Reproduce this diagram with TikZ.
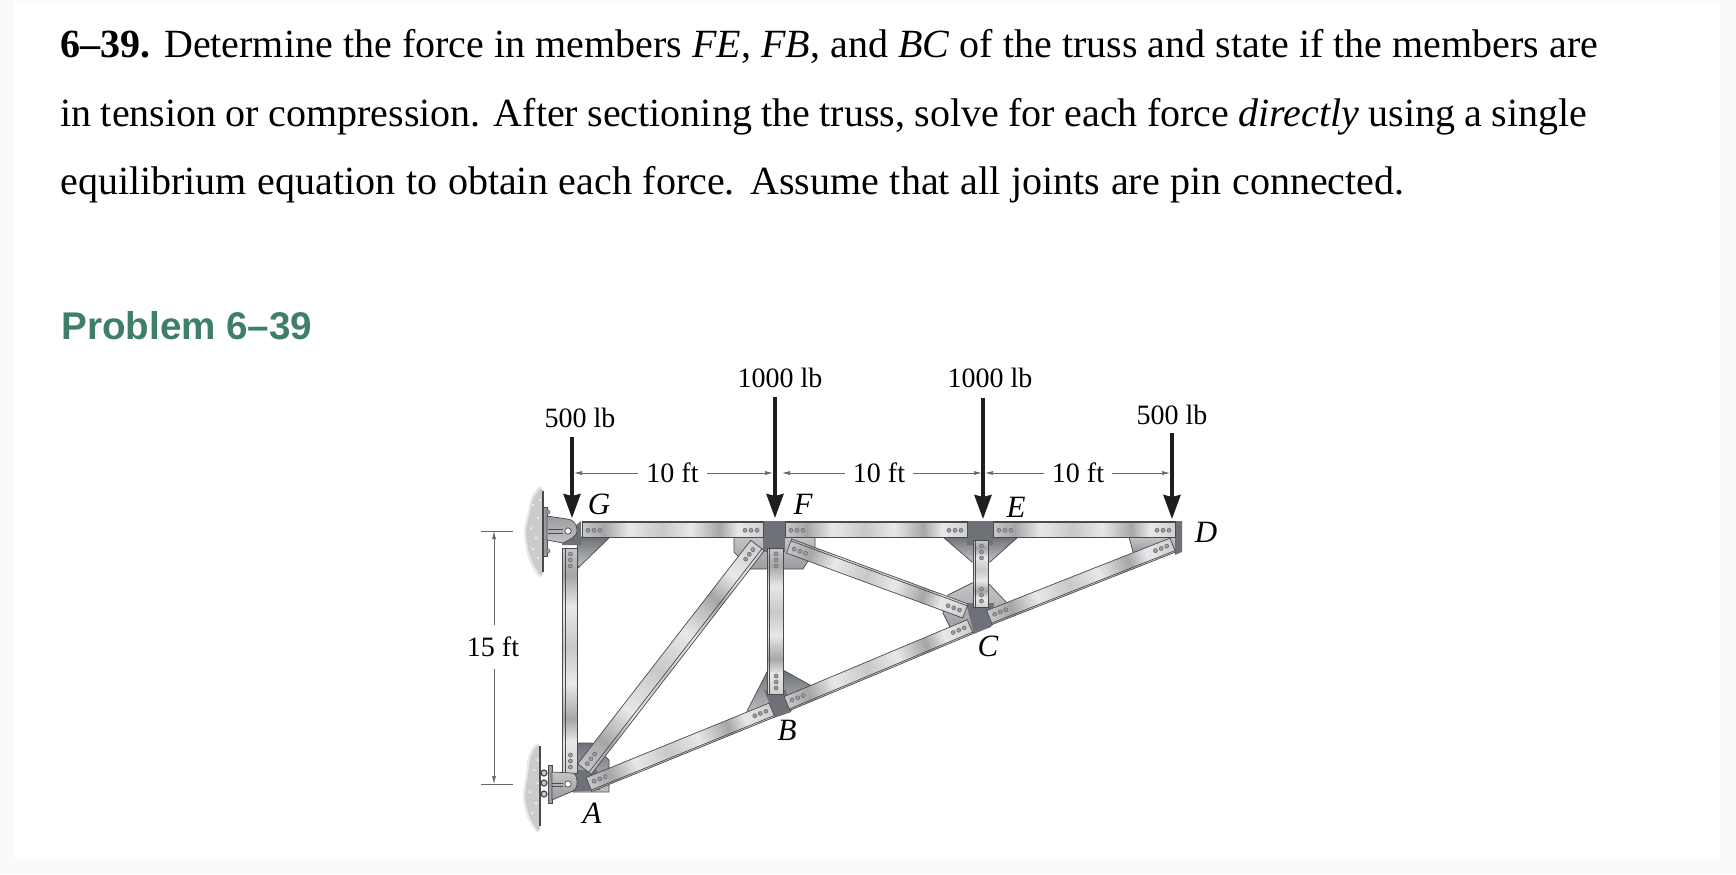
\documentclass[tikz,border=0pt]{standalone}
\usepackage{fontspec}
\setmainfont{Liberation Serif}
\newfontfamily\headfont{Liberation Sans}
\usepackage{tikz}
\usetikzlibrary{arrows.meta}
\usetikzlibrary{calc}
\definecolor{PageGrey}{HTML}{FAFAFA}
\definecolor{HeadGreen}{HTML}{3F7F68}
\definecolor{BarA}{HTML}{CFCFD0}
\definecolor{BarB}{HTML}{A6A6A8}
\definecolor{BarC}{HTML}{E8E8EA}
\definecolor{BarD}{HTML}{C8C8CA}
\definecolor{PlateDark}{HTML}{6E7278}
\definecolor{PlateMid}{HTML}{9A9CA0}
\definecolor{PlateLight}{HTML}{C4C4C6}
\definecolor{EdgeGrey}{HTML}{4A4A4C}
\definecolor{InkDark}{HTML}{1E1E1E}
\pgfdeclarehorizontalshading{metalbar}{100bp}{color(0bp)=(BarD); color(25bp)=(BarD); color(31bp)=(BarB); color(38bp)=(BarC); color(47bp)=(BarD); color(55bp)=(BarC); color(63bp)=(BarB); color(68bp)=(BarC); color(75bp)=(BarA); color(100bp)=(BarA)}
\tikzset{
  edgeline/.style={draw=EdgeGrey, line width=0.35pt},
  boltdot/.style={fill=PlateMid, draw=EdgeGrey!80, line width=0.3pt},
  plateup/.style={top color=PlateLight, bottom color=PlateMid, edgeline},
  platedown/.style={top color=PlateDark, bottom color=PlateLight, edgeline},
  hubplate/.style={fill=PlateDark, draw=none},
  wallfill/.style={fill=black!20, draw=none},
  wallhalo/.style={fill=black!9, draw=none},
  loadarrow/.style={draw=InkDark, line width=1.8pt, -{Stealth[length=12pt,width=8.5pt,inset=1pt]}},
  dimline/.style={draw=black!60, line width=0.35pt, -{Latex[length=4pt,width=2pt]}, shorten <=0pt},
  dimlabel/.style={font=\fontsize{14}{14}\selectfont, inner xsep=4pt, inner ysep=0pt},
  loadlabel/.style={font=\fontsize{14}{14}\selectfont, inner sep=0pt},
  jointlabel/.style={font=\fontsize{15.5}{15.5}\selectfont\itshape, inner sep=0pt},
  bodyline/.style={font=\fontsize{20}{20}\selectfont, anchor=base west, inner sep=0pt},
}
% start, end, width, flange offset
\newcommand{\member}[4]{%
  \path let \p1=($(#2)-(#1)$) in \pgfextra{%
    \pgfmathsetmacro{\memang}{atan2(\y1,\x1)}%
    \pgfmathsetmacro{\memlen}{veclen(\x1,\y1)*2}%
    \global\let\memang\memang\global\let\memlen\memlen};
  \begin{scope}[transform canvas={shift={(#1)},rotate=\memang}]
    \shade[shading=metalbar] (0,-#3/2) rectangle (\memlen,#3/2);
    \draw[edgeline] (0,-#3/2) rectangle (\memlen,#3/2);
    \draw[edgeline] (0,#4) -- (\memlen,#4);
    \foreach \d in {6,12,18} {
      \draw[boltdot] (\d,{-0.2*#4}) circle (2);
      \draw[boltdot] ({\memlen-\d},{-0.2*#4}) circle (2);
    }
  \end{scope}}
\begin{document}
\begin{tikzpicture}[x=0.5pt,y=-0.5pt]
    \useasboundingbox (0,0) rectangle (1736,874);
    \fill[PageGrey] (0,0) rectangle (1736,874);
    \fill[white] (15,1) rectangle (1720,859);
    % problem text
    \node[bodyline] (lineA) at (60,57) {\makebox[769pt][s]{\textbf{6–39.} Determine the force in members \textit{FE}, \textit{FB}, and \textit{BC} of the truss and state if the members are}};
    \node[bodyline] (lineB) at (60,126) {\makebox[763.5pt][s]{in tension or compression. After sectioning the truss, solve for each force \textit{directly} using a single}};
    \node[bodyline] (lineC) at (60,194) {\makebox[672pt][s]{equilibrium equation to obtain each force. Assume that all joints are pin connected.}};
    \node[anchor=base west, inner sep=0pt, text=HeadGreen, font=\headfont\bfseries\fontsize{19.3}{20}\selectfont] (heading) at (61,339) {Problem 6–39};
    % walls
    \fill[wallhalo] plot[smooth cycle] coordinates {(543,491) (533,494) (528,511) (524,532) (527,553) (533,569) (543,573)};
    \fill[wallhalo] plot[smooth cycle] coordinates {(540,747) (529,754) (526,775) (523,797) (527,817) (533,827) (540,828)};
    \fill[wallfill] plot[smooth cycle] coordinates {(543,493) (534,497) (530,512) (526,532) (529,552) (535,567) (543,571)};
    \fill[wallfill] plot[smooth cycle] coordinates {(540,749) (531,756) (528,775) (525,797) (529,815) (534,825) (540,826)};
    \foreach \x/\y in {533/505,538/518,531/528,536/538,533/549,538/558,540/500,534/770,538/783,530/792,536/803,532/813,538/760}
      \fill[white] (\x,\y) circle (1);
    \draw[EdgeGrey, line width=0.7pt] (543,491) -- (543,572);
    \draw[EdgeGrey, line width=0.7pt] (540,746) -- (540,826);
    % gusset plates
    \path[platedown] (577,537) -- (610,537) -- (578,568) -- cycle;
    \path[plateup] (734,537) -- (815,537) -- (815,550) -- (803,569) -- (750,569) -- (734,552) -- cycle;
    \path[platedown] (943,537) -- (1018,537) -- (990,562) -- (972,562) -- cycle;
    \path[plateup] (1129,537) -- (1176,537) -- (1176,550) -- (1133,552) -- cycle;
    \path[platedown] (577,743) -- (592,743) -- (609,760) -- (609,792) -- (573,792) -- cycle;
    \path[platedown] (768,670) -- (783,670) -- (810,685) -- (790,712) -- (775,717) -- (747,711) -- cycle;
    \path[plateup] (972,583) -- (988,583) -- (1007,603) -- (990,627) -- (973,633) -- (950,627) -- (943,613) -- (948,595) -- cycle;
    % hubs
    \fill[hubplate] (763,521) rectangle (785,552);
    \fill[hubplate] (967,521) rectangle (993,545);
    \fill[hubplate] (1175,521) -- (1182,521) -- (1182,552) -- (1175,555) -- cycle;
    \fill[hubplate] (966,603) -- (994,603) -- (992,626) -- (974,634) -- cycle;
    \fill[hubplate] (764,690) -- (786,690) -- (790,711) -- (775,717) -- cycle;
    \fill[hubplate] (570,770) -- (597,770) -- (600,790) -- (570,792) -- cycle;
    \fill[hubplate] (562,537) -- (581,521) -- (581,545) -- (562,545) -- cycle;
    % members
    \member{582,529}{763,529}{16}{-6.5}
    \member{785,529}{967,529}{16}{-6.5}
    \member{993,529}{1175,529}{16}{-6.5}
    \member{569.5,548}{569.5,773}{15}{4.5}
    \member{775,548}{775,694}{16}{5.5}
    \member{980.5,540}{980.5,607}{15}{5}
    \member{584.5,769}{757.5,545.5}{17}{5.5}
    \member{789,546}{965.5,611}{15}{-5.5}
    \member{589,784.5}{772,710}{15}{6}
    \member{787,703.5}{970.5,626.5}{15}{6}
    \member{989.5,617.5}{1173,545}{15}{6}
    % supports
    \fill[PlateMid, draw=EdgeGrey, line width=0.4pt] (543,507) rectangle (547,556);
    \draw[boltdot] (548,512) circle (2);
    \draw[boltdot] (548,551) circle (2);
    \path[top color=PlateMid, bottom color=PlateLight, edgeline] (547,516) -- (567,519) to[out=0,in=90] (577,530) to[out=-90,in=30] (563,543) -- (547,540) -- cycle;
    \draw[edgeline, line width=0.5pt] (548,529) -- (563,529) (548,533) -- (563,533);
    \draw[edgeline, fill=white] (568,531) circle (3.2);
    \foreach \y in {773,783,794} \draw[edgeline, fill=PlateLight, line width=0.6pt] (544,\y) circle (3);
    \fill[PlateMid, draw=EdgeGrey, line width=0.4pt] (548,765) rectangle (552,803);
    \path[top color=PlateLight, bottom color=PlateMid, edgeline] (552,772) -- (572,773) to[out=0,in=90] (577,783) to[out=-90,in=30] (573,791) -- (552,800) -- cycle;
    \draw[edgeline, line width=0.5pt] (552,783) -- (563,783) (552,786) -- (563,786);
    \draw[edgeline, fill=white] (568,784) circle (3.2);
    % loads
    \coordinate (G) at (572,518);
    \coordinate (F) at (775,518);
    \coordinate (E) at (983,519);
    \coordinate (D) at (1172,519);
    \foreach \j/\h in {G/81,F/121,E/121,D/86}
      \draw[loadarrow] ($(\j)+(0,-\h)$) -- (\j);
    \node[loadlabel] (loadG) at (580,418) {500 lb};
    \node[loadlabel] (loadF) at (780,378) {1000 lb};
    \node[loadlabel] (loadE) at (990,378) {1000 lb};
    \node[loadlabel] (loadD) at (1172,415) {500 lb};
    % dimensions
    \node[dimlabel] (spanGF) at (672.5,473) {10 ft};
    \node[dimlabel] (spanFE) at (879,473) {10 ft};
    \node[dimlabel] (spanED) at (1078,473) {10 ft};
    \coordinate (tickG) at (574,473);
    \coordinate (tickFa) at (773,473);
    \coordinate (tickFb) at (782,473);
    \coordinate (tickEa) at (982,473);
    \coordinate (tickEb) at (985,473);
    \coordinate (tickD) at (1170,473);
    \draw[dimline] (spanGF) -- (tickG);
    \draw[dimline] (spanGF) -- (tickFa);
    \draw[dimline] (spanFE) -- (tickFb);
    \draw[dimline] (spanFE) -- (tickEa);
    \draw[dimline] (spanED) -- (tickEb);
    \draw[dimline] (spanED) -- (tickD);
    \node[dimlabel, inner xsep=0pt, inner ysep=6pt] (heightGA) at (493,647) {15 ft};
    \coordinate (heightTop) at (494,531);
    \coordinate (heightBot) at (494,784);
    \draw[dimline] (heightGA.north -| heightTop) -- (heightTop);
    \draw[dimline] (heightGA.south -| heightBot) -- (heightBot);
    \draw[black!60, line width=0.35pt] (481,531) -- (513,531) (481,784) -- (513,784);
    % joint letters
    \foreach \nm/\x/\y in {G/599/504,F/803/504,E/1016/507,D/1206/532,C/988/646,B/787/730,A/592/813}
      \node[jointlabel] (lbl\nm) at (\x,\y) {\nm};
\end{tikzpicture}
\end{document}
